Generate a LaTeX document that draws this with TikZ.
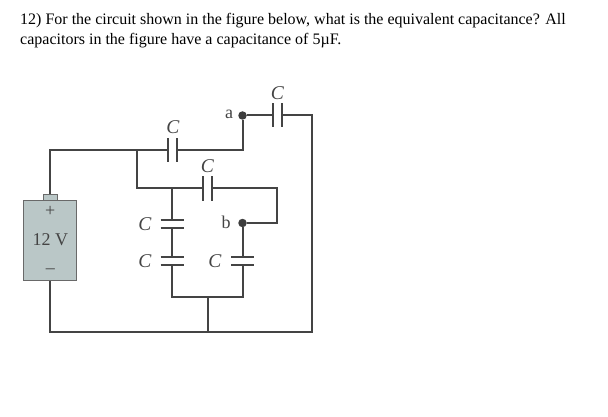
\documentclass[tikz,border=0pt]{standalone}
\usepackage{fontspec}
\setmainfont{Liberation Serif}
\definecolor{wirecol}{HTML}{444444}
\definecolor{batcol}{HTML}{BAC7C7}
\begin{document}
\begin{tikzpicture}[%
  x=1pt,y=-1pt,
  wire/.style={draw=wirecol,line width=2pt},
  plate/.style={draw=wirecol,line width=2pt},
  caph/.style={minimum width=9pt,minimum height=24pt,inner sep=0pt,outer sep=0pt,
    append after command={(\tikzlastnode.north west) edge[plate] (\tikzlastnode.south west)
      (\tikzlastnode.north east) edge[plate] (\tikzlastnode.south east)}},
  capv/.style={minimum width=23pt,minimum height=8pt,inner sep=0pt,outer sep=0pt,
    append after command={(\tikzlastnode.north west) edge[plate] (\tikzlastnode.north east)
      (\tikzlastnode.south west) edge[plate] (\tikzlastnode.south east)}},
  dot/.style={circle,fill=wirecol!90!black,inner sep=0pt,minimum size=8.5pt},
  lab/.style={text=wirecol,font=\fontsize{18}{20}\selectfont,inner sep=0pt},
  clab/.style={lab,font=\fontsize{19.5}{20}\selectfont\itshape},
  line/.style={anchor=base west,inner sep=0pt,font=\fontsize{16}{18}\selectfont}]
  \useasboundingbox (0,0) rectangle (608,417);
  \node[line] (t1) at (20,24.5) {12) For the circuit shown in the figure below, what is the equivalent capacitance? All};
  \node[line] (t2) at (20,44.5) {capacitors in the figure have a capacitance of 5µF.};
  % battery
  \node[draw=wirecol!80,fill=batcol,minimum width=14pt,minimum height=7pt,inner sep=0pt] (tab) at (50.3,197.5) {};
  \node[draw=wirecol!80,line width=1pt,fill=batcol,minimum width=53pt,minimum height=80pt,inner sep=0pt] (bat) at (50.3,240.8) {};
  \node[lab] (plus) at (50.3,211) {+};
  \node[lab] (volt) at (50.3,240) {12 V};
  \node[lab] (minus) at (50.3,271) {--};
  % capacitors
  \node[caph] (cb) at (172.5,150.5) {};
  \node[caph] (ct) at (277.5,115.5) {};
  \node[caph] (cm) at (207.5,188.5) {};
  \node[capv] (cl1) at (172,224) {};
  \node[capv] (cl2) at (172,261) {};
  \node[capv] (cr) at (242.5,261) {};
  \node[dot] (a) at (242.5,115.5) {};
  \node[dot] (b) at (242.5,223) {};
  \coordinate (j1) at (137,150.5);
  \coordinate (j2) at (172,188.5);
  \coordinate (j3) at (207.5,297);
  \coordinate (bl) at (50.3,332);
  \coordinate (bm) at (207.5,332);
  \coordinate (br) at (312,332);
  % wires
  \draw[wire] (tab.north) |- (j1) -- (cb.west) (cb.east) -| (a) -- (ct.west) (ct.east) -| (br) -- (bl) -- (bat.south);
  \draw[wire] (j1) |- (cm.west) (cm.east) -| (277,223) -- (b) -- (cr.north);
  \draw[wire] (j2) -- (cl1.north) (cl1.south) -- (cl2.north);
  \draw[wire] (cl2.south) |- (j3) -| (cr.south) (j3) -- (bm);
  % labels
  \node[clab] (lt) at (277.5,93) {C};
  \node[clab] (lb) at (173,127) {C};
  \node[clab] (lm) at (207.5,166) {C};
  \node[clab] (ll1) at (145,224) {C};
  \node[clab] (ll2) at (145,261) {C};
  \node[clab] (lr) at (215,261) {C};
  \node[lab] (la) at (229,114) {a};
  \node[lab] (lbb) at (226,222) {b};
\end{tikzpicture}
\end{document}
